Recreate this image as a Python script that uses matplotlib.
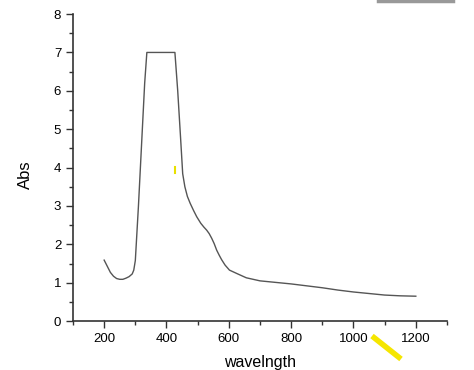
import numpy as np
import matplotlib
matplotlib.use("Agg")
import matplotlib.pyplot as plt
from matplotlib.lines import Line2D
from matplotlib.ticker import MultipleLocator

plt.rcParams['font.family'] = ['Liberation Sans', 'DejaVu Sans']

wavelength = [200, 210, 220, 230, 240, 250, 260, 270, 280, 290, 295, 300,
              310, 320, 330, 337, 380, 427, 436, 445, 452, 459, 467, 476,
              487, 497, 510, 520, 529, 537, 545, 553, 561, 569, 577, 588,
              602, 626, 656, 700, 750, 800, 850, 900, 950, 1000, 1050,
              1100, 1150, 1200]
absorbance = [1.59, 1.43, 1.27, 1.17, 1.11, 1.09, 1.09, 1.12, 1.16, 1.23,
              1.33, 1.58, 3.0, 4.6, 6.2, 7.0, 7.0, 7.0, 6.0, 4.8, 3.84,
              3.5, 3.25, 3.07, 2.88, 2.72, 2.55, 2.45, 2.37, 2.28, 2.16,
              2.02, 1.85, 1.72, 1.6, 1.46, 1.33, 1.24, 1.13, 1.05, 1.01,
              0.97, 0.92, 0.87, 0.81, 0.76, 0.72, 0.68, 0.66, 0.65]

fig = plt.figure(figsize=(4.74, 3.7), dpi=100)
ax = fig.add_axes([0.154, 0.132, 0.789, 0.830])
ax.plot(wavelength, absorbance, color='#555555', lw=1.0)

ax.set_xlim(100, 1300)
ax.set_ylim(0, 8)
ax.xaxis.set_major_locator(MultipleLocator(200))
ax.xaxis.set_minor_locator(MultipleLocator(100))
ax.yaxis.set_major_locator(MultipleLocator(1))
ax.yaxis.set_minor_locator(MultipleLocator(0.5))
ax.tick_params(which='major', direction='out', length=5, width=1, labelsize=9.5, color='#333333')
ax.tick_params(which='minor', direction='out', length=3, width=1, color='#333333')
for s in ['top', 'right']:
    ax.spines[s].set_visible(False)
for s in ['left', 'bottom']:
    ax.spines[s].set_color('#333333')
    ax.spines[s].set_linewidth(1.2)

ax.set_xlabel('wavelngth', fontsize=11.5, labelpad=7)
ax.set_ylabel('Abs', fontsize=12)
ax.yaxis.set_label_coords(-0.107, 0.476)

# stray marks in the original image
W, H = 474, 370
fig.add_artist(Line2D([378 / W, 453 / W], [1 - 1 / H, 1 - 1 / H], color='#999999', lw=2.5))
fig.add_artist(Line2D([175 / W, 175 / W], [1 - 167 / H, 1 - 173 / H], color='#e8e000', lw=1.5))
fig.add_artist(Line2D([372 / W, 401 / W], [1 - 336 / H, 1 - 359 / H], color='#f5e600', lw=4,
                      solid_capstyle='butt'))

fig.savefig('out.png', dpi=100)
